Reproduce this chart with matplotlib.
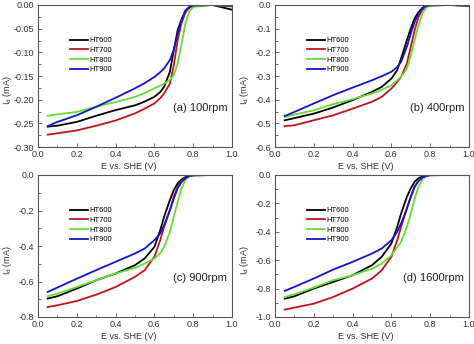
import matplotlib
matplotlib.use("Agg")
import matplotlib.pyplot as plt
from matplotlib.ticker import MultipleLocator, FormatStrFormatter

plt.rcParams['font.family'] = ['Liberation Sans', 'DejaVu Sans']

# Potential (V vs. SHE)
E = [0.05, 0.1, 0.2, 0.3, 0.4, 0.5, 0.55, 0.6, 0.63, 0.65, 0.68, 0.7,
     0.72, 0.74, 0.76, 0.78, 0.8, 0.9, 1.0]

samples = ["HT600", "HT700", "HT800", "HT900"]
colors = ["#000000", "#c0141c", "#66dd33", "#1414c8"]

# Disk current (mA) at 100 rpm
a_ht600 = [-0.257, -0.255, -0.247, -0.234, -0.222, -0.212, -0.204, -0.194, -0.184, -0.173, -0.141, -0.095, -0.053, -0.030, -0.014, -0.006, -0.001, 0.0, -0.010]
a_ht700 = [-0.274, -0.271, -0.265, -0.255, -0.244, -0.229, -0.219, -0.208, -0.197, -0.187, -0.166, -0.127, -0.074, -0.038, -0.016, -0.005, -0.001, 0.0, -0.003]
a_ht800 = [-0.234, -0.231, -0.226, -0.215, -0.205, -0.194, -0.186, -0.176, -0.170, -0.166, -0.158, -0.148, -0.124, -0.081, -0.039, -0.014, -0.004, 0.0, -0.002]
a_ht900 = [-0.256, -0.247, -0.233, -0.215, -0.196, -0.176, -0.165, -0.152, -0.142, -0.134, -0.116, -0.095, -0.060, -0.032, -0.011, -0.004, -0.001, 0.0, -0.002]

# 400 rpm
b_ht600 = [-0.487, -0.478, -0.459, -0.433, -0.402, -0.367, -0.346, -0.311, -0.275, -0.226, -0.148, -0.099, -0.056, -0.030, -0.012, -0.004, -0.001, 0.0, -0.003]
b_ht700 = [-0.512, -0.508, -0.487, -0.466, -0.438, -0.409, -0.388, -0.353, -0.325, -0.303, -0.247, -0.176, -0.106, -0.050, -0.020, -0.007, -0.002, 0.0, -0.003]
b_ht800 = [-0.473, -0.463, -0.445, -0.419, -0.398, -0.374, -0.358, -0.339, -0.318, -0.303, -0.268, -0.212, -0.148, -0.085, -0.035, -0.010, -0.002, 0.0, -0.003]
b_ht900 = [-0.469, -0.452, -0.416, -0.381, -0.349, -0.318, -0.301, -0.282, -0.262, -0.240, -0.176, -0.120, -0.071, -0.035, -0.012, -0.004, -0.001, 0.0, -0.003]

# 900 rpm
c_ht600 = [-0.696, -0.683, -0.640, -0.593, -0.555, -0.508, -0.470, -0.405, -0.311, -0.235, -0.141, -0.085, -0.047, -0.025, -0.012, -0.004, -0.001, 0.0, 0.0]
c_ht700 = [-0.744, -0.734, -0.710, -0.674, -0.631, -0.574, -0.536, -0.461, -0.367, -0.292, -0.198, -0.122, -0.066, -0.034, -0.016, -0.006, -0.002, 0.0, 0.0]
c_ht800 = [-0.683, -0.668, -0.631, -0.593, -0.555, -0.523, -0.499, -0.471, -0.440, -0.405, -0.320, -0.235, -0.151, -0.075, -0.028, -0.006, -0.001, 0.0, 0.0]
c_ht900 = [-0.659, -0.634, -0.584, -0.536, -0.489, -0.442, -0.414, -0.367, -0.329, -0.282, -0.198, -0.132, -0.075, -0.040, -0.018, -0.006, -0.002, 0.0, 0.0]

# 1600 rpm
d_ht600 = [-0.871, -0.854, -0.800, -0.753, -0.706, -0.635, -0.576, -0.482, -0.365, -0.271, -0.153, -0.094, -0.047, -0.022, -0.010, -0.002, 0.0, 0.0, 0.0]
d_ht700 = [-0.948, -0.934, -0.906, -0.859, -0.800, -0.729, -0.671, -0.576, -0.459, -0.365, -0.235, -0.153, -0.082, -0.040, -0.018, -0.005, -0.001, 0.0, 0.0]
d_ht800 = [-0.859, -0.840, -0.793, -0.741, -0.706, -0.659, -0.624, -0.565, -0.510, -0.471, -0.365, -0.271, -0.165, -0.082, -0.031, -0.007, -0.001, 0.0, 0.0]
d_ht900 = [-0.816, -0.788, -0.729, -0.666, -0.612, -0.553, -0.518, -0.459, -0.400, -0.341, -0.235, -0.153, -0.082, -0.042, -0.018, -0.007, -0.002, 0.0, 0.0]

panel_labels = ["(a) 100rpm", "(b) 400rpm", "(c) 900rpm", "(d) 1600rpm"]
panel_data = [
    [a_ht600, a_ht700, a_ht800, a_ht900],
    [b_ht600, b_ht700, b_ht800, b_ht900],
    [c_ht600, c_ht700, c_ht800, c_ht900],
    [d_ht600, d_ht700, d_ht800, d_ht900],
]
y_limits = [(-0.30, 0.0), (-0.6, 0.0), (-0.8, 0.0), (-1.0, 0.0)]
y_major = [0.05, 0.1, 0.2, 0.2]
y_fmt = ["%.2f", "%.1f", "%.1f", "%.1f"]

W, H = 474, 344
fig = plt.figure(figsize=(W / 100, H / 100), dpi=100)

# axes boxes in pixels: left, top, right, bottom
boxes = [(38, 5, 232, 147), (275, 5, 469, 147),
         (38, 175, 232, 317), (275, 175, 469, 317)]

frame_col = "#555555"
text_col = "#333333"

for i, (l, t, r, b) in enumerate(boxes):
    ax = fig.add_axes([l / W, 1 - b / H, (r - l) / W, (b - t) / H])
    for s, col, ys in zip(samples, colors, panel_data[i]):
        ax.plot(E, ys, color=col, lw=1.3, label=s)
    ax.set_xlim(0.0, 1.0)
    ax.set_ylim(*y_limits[i])
    ax.xaxis.set_major_locator(MultipleLocator(0.2))
    ax.xaxis.set_minor_locator(MultipleLocator(0.1))
    ax.xaxis.set_major_formatter(FormatStrFormatter("%.1f"))
    ax.yaxis.set_major_locator(MultipleLocator(y_major[i]))
    ax.yaxis.set_minor_locator(MultipleLocator(y_major[i] / 2))
    ax.yaxis.set_major_formatter(FormatStrFormatter(y_fmt[i]))
    ax.tick_params(which="both", direction="in", colors=frame_col,
                   labelcolor=text_col, labelsize=6.5, width=0.6, pad=2.5)
    ax.tick_params(which="major", length=3)
    ax.tick_params(which="minor", length=1.8)
    for sp in ax.spines.values():
        sp.set_color(frame_col)
        sp.set_linewidth(0.8)
    ax.set_xlabel("E vs. SHE (V)", fontsize=6.5, color=text_col)
    ax.xaxis.set_label_coords(0.47, -0.105)
    ax.set_ylabel(r"I$_\mathregular{d}$ (mA)", fontsize=6.5, color=text_col)
    ax.yaxis.set_label_coords(-0.125, 0.4)
    ax.text(0.975, 0.275, panel_labels[i], transform=ax.transAxes,
            ha="right", va="center", fontsize=8, color="#222222")
    ax.legend(loc="upper left", bbox_to_anchor=(0.165, 0.775), frameon=False,
              fontsize=5.5, handlelength=2.4, handletextpad=0.15,
              labelspacing=0.3, borderaxespad=0.0, borderpad=0.0)

fig.savefig("out.png", dpi=100)
